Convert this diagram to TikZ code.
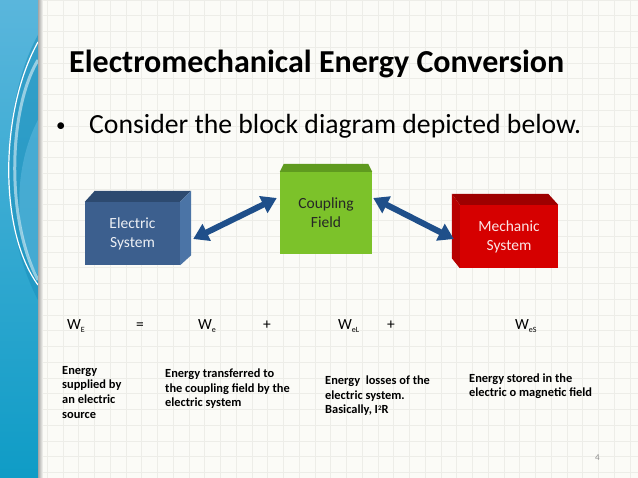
\documentclass[tikz,border=0pt]{standalone}
\usepackage{fontspec}
\setmainfont{Carlito}
\usetikzlibrary{arrows.meta,shapes.geometric}
\definecolor{slidebg}{HTML}{FBFBF7}
\definecolor{gridcol}{HTML}{EDEDE8}
\definecolor{bandtop}{HTML}{5AB6DC}
\definecolor{bandbot}{HTML}{0F9CC6}
\definecolor{banddark}{HTML}{1A8FBB}
\definecolor{elecfront}{HTML}{3C5F8E}
\definecolor{electop}{HTML}{2D4A70}
\definecolor{elecside}{HTML}{4B74A6}
\definecolor{coupfront}{HTML}{7CC22A}
\definecolor{couptop}{HTML}{5F9A1F}
\definecolor{mechfront}{HTML}{D60000}
\definecolor{mechtop}{HTML}{9E0000}
\definecolor{mechside}{HTML}{B80000}
\definecolor{arrowcol}{HTML}{1F4F8A}
\newcommand{\wsub}[1]{W\raisebox{-2.5pt}{\fontsize{8}{8}\selectfont #1}}
\begin{document}
\begin{tikzpicture}[x=1pt,y=-1pt,
  gridline/.style={draw=gridcol,line width=0.6pt},
  blockbox/.style={inner sep=0pt,align=center,font=\fontsize{15.5}{19}\selectfont},
  energyarrow/.style={arrowcol,line width=6pt,
    {Triangle[length=15pt,width=18pt]}-{Triangle[length=15pt,width=18pt]}},
  eqtext/.style={anchor=base west,inner sep=0pt,font=\fontsize{15.5}{18}\selectfont},
  desc/.style={anchor=north west,inner sep=0pt,align=left,
    font=\fontsize{12.4}{14.6}\selectfont\bfseries}]
\useasboundingbox (0,0) rectangle (638,478);
\fill[slidebg] (0,0) rectangle (638,478);
% grid of the slide background
\foreach \i in {0,...,40}
  \draw[gridline] (\i*15.75,0) -- (\i*15.75,478);
\foreach \j in {0,...,30}
  \draw[gridline] (0,\j*15.75) -- (638,\j*15.75);
% left band
\fill[top color=bandtop,bottom color=bandbot] (0,0) rectangle (38,478);
\fill[banddark,opacity=0.55] (38,35) .. controls (2,100) and (-4,220) .. (38,300) -- cycle;
\fill[bandtop,opacity=0.6] (38,120) .. controls (14,165) and (12,235) .. (38,275) -- cycle;
\draw[white,line width=1.2pt] (38,42) .. controls (0,110) and (-2,230) .. (38,285);
\draw[white,opacity=0.5,line width=3pt] (38,60) .. controls (8,110) and (6,220) .. (38,280);
\fill[left color=black!35,right color=slidebg] (38,0) rectangle (43,478);
% title and bullet
\node[anchor=base west,inner sep=0pt,font=\fontsize{32}{36}\selectfont\bfseries]
  (title) at (69,73) {Electromechanical Energy Conversion};
\node[anchor=base west,inner sep=0pt,font=\fontsize{19}{22}\selectfont]
  (dot) at (56,132) {•};
\node[anchor=base west,inner sep=0pt,font=\fontsize{27.7}{32}\selectfont]
  (bullet) at (89,134) {Consider the block diagram depicted below.};
% blocks
\node[blockbox,fill=elecfront,text=white!90!elecfront,minimum width=95pt,minimum height=63pt]
  (elec) at (132.5,233.5) {Electric\\System};
\fill[electop] (elec.north west) -- ++(10,-11) -- ([shift={(11,-11)}]elec.north east)
  -- (elec.north east) -- cycle;
\fill[elecside] (elec.north east) -- ++(11,-11) -- ([shift={(11,-10)}]elec.south east)
  -- (elec.south east) -- cycle;
\node[blockbox,fill=coupfront,text=black!85,minimum width=92pt,minimum height=82pt]
  (coup) at (326,213) {Coupling\\Field};
\fill[couptop] (coup.north west) -- ++(4,-8) -- ([shift={(-4,-8)}]coup.north east)
  -- (coup.north east) -- cycle;
\node[blockbox,fill=mechfront,text=white!90!mechfront,minimum width=98pt,minimum height=63pt]
  (mech) at (509,236.5) {Mechanic\\System};
\fill[mechtop] ([shift={(-8,-11)}]mech.north west) -- ([shift={(-10,-11)}]mech.north east)
  -- (mech.north east) -- (mech.north west) -- cycle;
\fill[mechside] ([shift={(-8,-11)}]mech.north west) -- (mech.north west)
  -- (mech.south west) -- ([shift={(-8,-10)}]mech.south west) -- cycle;
% arrows between the blocks
\draw[energyarrow] ([shift={(13,5.5)}]elec.east) -- ([shift={(-3,-15)}]coup.west);
\draw[energyarrow] ([shift={(1,-15)}]coup.east) -- ([shift={(-6,2.5)}]mech.west);
% energy balance
\node[eqtext] (wE) at (67,330) {\wsub{E}};
\node[eqtext] (eq) at (136,330) {=};
\node[eqtext] (we) at (198,330) {\wsub{e}};
\node[eqtext] (plusa) at (263,330) {+};
\node[eqtext] (weL) at (338,330) {\wsub{eL}};
\node[eqtext] (plusb) at (387,330) {+};
\node[eqtext] (weS) at (515,330) {\wsub{eS}};
\node[desc] (dE) at (62,366) {Energy\\supplied by\\an electric\\source};
\node[desc] (de) at (165,368.5) {Energy transferred to\\the coupling field by the\\electric system};
\node[desc] (deL) at (325,375.5) {Energy\ \ losses of the\\electric system.\\Basically, I\raisebox{3.5pt}{\fontsize{7}{7}\selectfont 2}R};
\node[desc] (deS) at (469,373.5) {Energy stored in the\\electric o magnetic field};
\node[anchor=base west,inner sep=0pt,text=black!45,font=\fontsize{9}{10}\selectfont]
  (page) at (595,461) {4};
\end{tikzpicture}
\end{document}
